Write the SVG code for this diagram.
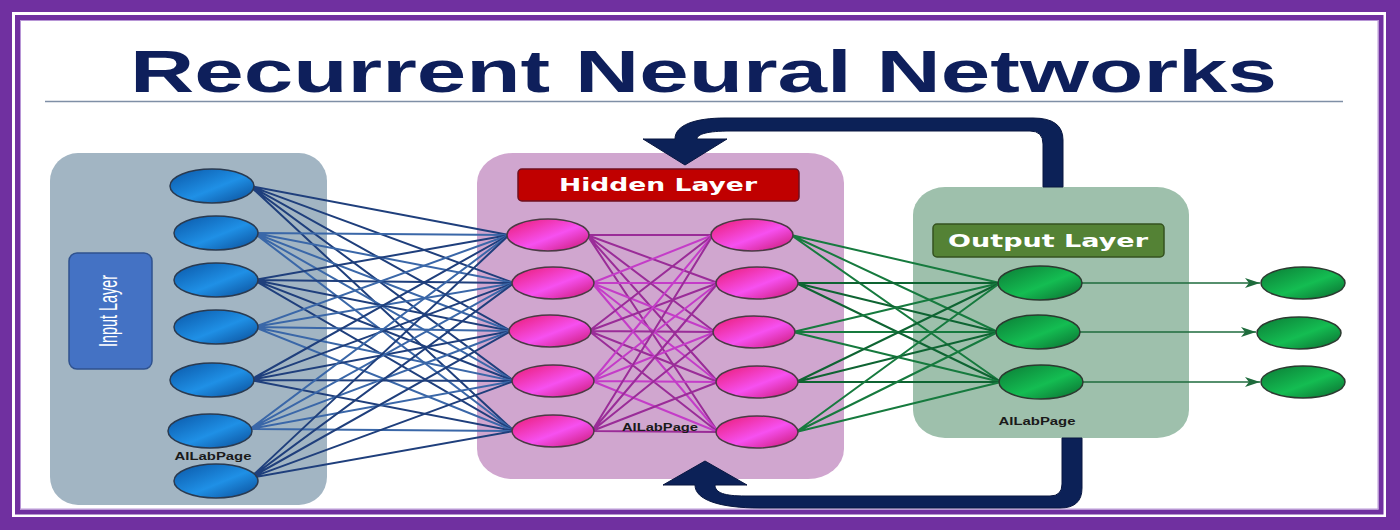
<svg xmlns="http://www.w3.org/2000/svg" width="1400" height="530" viewBox="0 0 1400 530">
<style>
.blueA{fill:none;stroke:#1f3f7c;stroke-width:2}
.blueB{fill:none;stroke:#3a67a8;stroke-width:2}
.magA{fill:none;stroke:#c43cc8;stroke-width:2}
.magB{fill:none;stroke:#9a2c98;stroke-width:2}
.grnA{fill:none;stroke:#167a3e;stroke-width:2}
.grnB{fill:none;stroke:#0e6432;stroke-width:2}
.out{fill:none;stroke:#1e6b3c;stroke-width:1.6}
.nb{fill:url(#gBlue);stroke:#2a3a50;stroke-width:1.5}
.np{fill:url(#gPink);stroke:#4a3a44;stroke-width:1.5}
.ng{fill:url(#gGreen);stroke:#2c3a30;stroke-width:1.5}
.wm{font-family:"Liberation Sans",Arial,sans-serif;font-weight:bold;font-size:10px;fill:#1a1a1a}
.lbl{font-family:"DejaVu Sans",Verdana,sans-serif;font-weight:bold;font-size:17px;fill:#ffffff}
.fb{fill:#0c2157;stroke:#081640;stroke-width:1}
</style>
<defs>
<linearGradient id="gBlue" x1="0" y1="0" x2="1" y2="1">
<stop offset="0" stop-color="#0a56a6"/>
<stop offset="0.55" stop-color="#1f90e6"/>
<stop offset="1" stop-color="#0a4a94"/>
</linearGradient>
<linearGradient id="gPink" x1="0" y1="0" x2="1" y2="1">
<stop offset="0" stop-color="#ea1a70"/>
<stop offset="0.55" stop-color="#f650f0"/>
<stop offset="1" stop-color="#c8146a"/>
</linearGradient>
<linearGradient id="gGreen" x1="0" y1="0" x2="1" y2="1">
<stop offset="0" stop-color="#0b7a35"/>
<stop offset="0.55" stop-color="#14bd52"/>
<stop offset="1" stop-color="#0a682e"/>
</linearGradient>
<marker id="arr" markerUnits="userSpaceOnUse" markerWidth="16" markerHeight="10" refX="15" refY="5" orient="auto">
<path d="M0,0 L15,5 L0,10 L4,5 Z" fill="#1e6b3c"/>
</marker>
</defs>

<!-- frame -->
<rect x="0" y="0" width="1400" height="530" fill="#7030a0"/>
<rect x="12" y="12" width="1374" height="505" fill="#ffffff"/>
<rect x="17.5" y="17.5" width="1363.5" height="494.5" fill="none" stroke="#7030a0" stroke-width="5"/>
<rect x="20.5" y="20.5" width="1357.5" height="488.5" fill="none" stroke="#b896d6" stroke-width="1"/>

<!-- title -->
<g id="title">
<text x="130" y="92" font-family="'Liberation Sans',Arial,sans-serif" font-weight="bold" font-size="60" fill="#0e1f5b" textLength="1147" lengthAdjust="spacingAndGlyphs">Recurrent Neural Networks</text>
<line x1="45" y1="101.5" x2="1343" y2="101.5" stroke="#7f8fa6" stroke-width="1.5"/>
</g>

<!-- panels -->
<g id="input-layer-panel">
<rect x="50" y="153" width="277" height="352" rx="28" ry="28" fill="#a2b5c3"/>
<rect x="69" y="253" width="83" height="116" rx="8" ry="8" fill="#4472c4" stroke="#2f528f" stroke-width="1.5"/>
<text transform="translate(117,311) rotate(-90)" x="0" y="0" text-anchor="middle" font-family="'Liberation Sans',Arial,sans-serif" font-size="25" fill="#ffffff" textLength="72" lengthAdjust="spacingAndGlyphs">Input Layer</text>
<text class="wm" x="213" y="460" text-anchor="middle" textLength="77" lengthAdjust="spacingAndGlyphs">AILabPage</text>
</g>
<g id="hidden-layer-panel">
<rect x="477" y="153" width="367" height="326" rx="36" ry="30" fill="#d0a6cf"/>
<rect x="518" y="169" width="281" height="32" rx="4" ry="4" fill="#c00000" stroke="#6e1020" stroke-width="1.5"/>
<text class="lbl" x="658" y="191" text-anchor="middle" textLength="198" lengthAdjust="spacingAndGlyphs">Hidden Layer</text>
</g>
<g id="output-layer-panel">
<rect x="913" y="187" width="276" height="251" rx="32" ry="28" fill="#9ec0ac"/>
<rect x="933" y="224" width="231" height="33" rx="4" ry="4" fill="#548235" stroke="#35521f" stroke-width="1.5"/>
<text class="lbl" x="1048" y="247" text-anchor="middle" textLength="200" lengthAdjust="spacingAndGlyphs">Output Layer</text>
<text class="wm" x="1037" y="425" text-anchor="middle" textLength="77" lengthAdjust="spacingAndGlyphs">AILabPage</text>
</g>

<!-- connectors -->
<g id="connectors">
<path class="blueA" d="M250,186L509,235M250,186L514,283M250,186L511,331M250,186L514,381M250,186L514,431"/>
<path class="blueB" d="M254,233L509,235M254,233L514,283M254,233L511,331M254,233L514,381M254,233L514,431"/>
<path class="blueA" d="M254,280L509,235M254,280L514,283M254,280L511,331M254,280L514,381M254,280L514,431"/>
<path class="blueB" d="M254,327L509,235M254,327L514,283M254,327L511,331M254,327L514,381M254,327L514,431"/>
<path class="blueA" d="M250,380L509,235M250,380L514,283M250,380L511,331M250,380L514,381M250,380L514,431"/>
<path class="blueB" d="M250,429L509,235M250,429L514,283M250,429L511,331M250,429L514,381M250,429L514,431"/>
<path class="blueA" d="M250,478L509,235M250,478L514,283M250,478L511,331M250,478L514,381M250,478L514,431"/>

<path class="magB" d="M587,235L713,235M587,235L718,283M587,235L715,332M587,235L718,382M587,235L718,432"/>
<path class="magA" d="M592,283L713,235M592,283L718,283M592,283L715,332M592,283L718,382M592,283L718,432"/>
<path class="magB" d="M589,331L713,235M589,331L718,283M589,331L715,332M589,331L718,382M589,331L718,432"/>
<path class="magA" d="M592,381L713,235M592,381L718,283M592,381L715,332M592,381L718,382M592,381L718,432"/>
<path class="magB" d="M592,431L713,235M592,431L718,283M592,431L715,332M592,431L718,382M592,431L718,432"/>

<path class="grnA" d="M791,235L1000,283M791,235L998,332M791,235L1001,382"/>
<path class="grnB" d="M796,283L1000,283M796,283L998,332M796,283L1001,382"/>
<path class="grnA" d="M793,332L1000,283M793,332L998,332M793,332L1001,382"/>
<path class="grnB" d="M796,382L1000,283M796,382L998,332M796,382L1001,382"/>
<path class="grnA" d="M796,432L1000,283M796,432L998,332M796,432L1001,382"/>

<line class="out" x1="1080" y1="283" x2="1260" y2="283" marker-end="url(#arr)"/>
<line class="out" x1="1078" y1="332" x2="1256" y2="332" marker-end="url(#arr)"/>
<line class="out" x1="1081" y1="382" x2="1260" y2="382" marker-end="url(#arr)"/>

<path class="fb" d="M1063,187 L1063,140 Q1063,118 1033,118 L725,118 C695,118 675,125 675,139 L643,139 L685,165 L727,139 L697,139 C697,134 708,131 730,131 L1030,131 Q1043,131 1043,144 L1043,187 Z"/>
<path class="fb" d="M1082,438 L1082,488 Q1082,508 1060,508 L760,508 C720,508 695,500 695,485 L663,485 L705,461 L747,485 L715,485 C715,493 725,496 745,496 L1050,496 Q1062,496 1062,484 L1062,438 Z"/>
</g>

<!-- input nodes -->
<g id="input-1"><ellipse class="nb" cx="212" cy="186" rx="42" ry="17"/></g>
<g id="input-2"><ellipse class="nb" cx="216" cy="233" rx="42" ry="17"/></g>
<g id="input-3"><ellipse class="nb" cx="216" cy="280" rx="42" ry="17"/></g>
<g id="input-4"><ellipse class="nb" cx="216" cy="327" rx="42" ry="17"/></g>
<g id="input-5"><ellipse class="nb" cx="212" cy="380" rx="42" ry="17"/></g>
<g id="input-6"><ellipse class="nb" cx="210" cy="431" rx="42" ry="17"/></g>
<g id="input-7"><ellipse class="nb" cx="216" cy="481" rx="42" ry="17"/></g>

<!-- hidden nodes -->
<g id="hidden-a1"><ellipse class="np" cx="548" cy="235" rx="41" ry="16"/></g>
<g id="hidden-a2"><ellipse class="np" cx="553" cy="283" rx="41" ry="16"/></g>
<g id="hidden-a3"><ellipse class="np" cx="550" cy="331" rx="41" ry="16"/></g>
<g id="hidden-a4"><ellipse class="np" cx="553" cy="381" rx="41" ry="16"/></g>
<g id="hidden-a5"><ellipse class="np" cx="553" cy="431" rx="41" ry="16"/></g>
<g id="hidden-b1"><ellipse class="np" cx="752" cy="235" rx="41" ry="16"/></g>
<g id="hidden-b2"><ellipse class="np" cx="757" cy="283" rx="41" ry="16"/></g>
<g id="hidden-b3"><ellipse class="np" cx="754" cy="332" rx="41" ry="16"/></g>
<g id="hidden-b4"><ellipse class="np" cx="757" cy="382" rx="41" ry="16"/></g>
<g id="hidden-b5"><ellipse class="np" cx="757" cy="432" rx="41" ry="16"/></g>
<text class="wm" x="660" y="431" text-anchor="middle" textLength="76" lengthAdjust="spacingAndGlyphs">AILabPage</text>

<!-- output nodes -->
<g id="output-1"><ellipse class="ng" cx="1040" cy="283" rx="42" ry="17"/></g>
<g id="output-2"><ellipse class="ng" cx="1038" cy="332" rx="42" ry="17"/></g>
<g id="output-3"><ellipse class="ng" cx="1041" cy="382" rx="42" ry="17"/></g>
<g id="final-1"><ellipse class="ng" cx="1303" cy="283" rx="42" ry="16"/></g>
<g id="final-2"><ellipse class="ng" cx="1299" cy="333" rx="42" ry="16"/></g>
<g id="final-3"><ellipse class="ng" cx="1303" cy="382" rx="42" ry="16"/></g>
</svg>
